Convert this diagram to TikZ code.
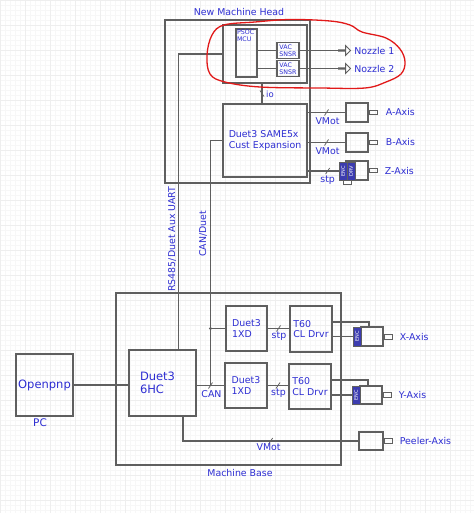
\documentclass[tikz,border=0pt]{standalone}
\usepackage{fontspec}
\usepackage{graphicx}
\setmainfont{DejaVu Sans}
\usetikzlibrary{calc,shapes.arrows}
\definecolor{tblue}{RGB}{45,45,210}
\definecolor{lgray}{RGB}{95,95,95}
\definecolor{gridc}{RGB}{247,247,247}
\definecolor{gridm}{RGB}{238,238,238}
\definecolor{redc}{RGB}{225,25,25}
\definecolor{encblue}{RGB}{60,60,175}
\newcommand\tk[1]{\draw[conn, line width=0.8pt] ($(#1)+(-2,3)$) -- ($(#1)+(2,-3)$);}
\begin{document}
\begin{tikzpicture}[x=1pt,y=-1pt,
  sz/.style 2 args={minimum width=#1pt, minimum height=#2pt},
  box/.style={draw=lgray, line width=1.3pt, inner sep=0pt, text=tblue, font=\fontsize{9.4}{10.5}\selectfont, align=left},
  conn/.style={draw=lgray, line width=1.1pt},
  lbl/.style={text=tblue, font=\fontsize{9.4}{11}\selectfont, inner sep=0pt},
  big/.style={font=\fontsize{11.5}{12.5}\selectfont},
  small/.style={font=\fontsize{6.3}{7}\selectfont},
  enc/.style={draw=lgray, fill=encblue, line width=0.8pt, inner sep=0pt, text=white, font=\fontsize{5}{5}\selectfont},
  noz/.style={single arrow, draw=lgray, line width=1pt, fill=white, minimum height=12pt, minimum width=10pt,
      single arrow head extend=3pt, inner sep=0pt, anchor=west},
  ]
\useasboundingbox (0,0) rectangle (474,513);
\fill[white] (0,0) rectangle (474,513);
\draw[gridc, line width=0.4pt, step=5pt] (0,0) grid (474,513);
\draw[gridm, line width=0.4pt, step=25pt] (0,0) grid (474,513);

% ---------- New machine head ----------
\node[box, sz={145}{163}] (head) at (237.5,101.5) {};
\node[lbl, anchor=base] (headlbl) at (239,15.5) {New Machine Head};
\node[box, sz={84}{58}] (psocbox) at (265,54) {};
\node[box, sz={21}{48}] (psoc) at (246.5,53) {};
\node[lbl, small, align=left, anchor=north west] (psoclbl) at ($(psoc.north west)+(1.5,1.5)$) {PSOC\\MCU};
\node[box, small, sz={22}{16}] (vac1) at (288,50.5) {VAC\\SNSR};
\node[box, small, sz={22}{16}] (vac2) at (288,68.5) {VAC\\SNSR};
\node[noz] (noz1) at (338,50.5) {};
\node[noz] (noz2) at (338,68.5) {};
\node[lbl, anchor=west] (noz1lbl) at ($(noz1.east)+(3,0)$) {Nozzle 1};
\node[lbl, anchor=west] (noz2lbl) at ($(noz2.east)+(3,0)$) {Nozzle 2};

\node[box, sz={84}{73}] (same) at (265,140.5) {Duet3 SAME5x\\Cust Expansion};

% A / B / Z axes
\node[box, sz={22}{19}] (amot) at (357,112.5) {};
\node[box, line width=1pt, sz={8}{4}, anchor=west] (ashaft) at (amot.east) {};
\node[lbl, anchor=base west] (albl) at ($(ashaft.east)+(8,3.5)$) {A-Axis};
\node[box, sz={22}{19}] (bmot) at (357,142.5) {};
\node[box, line width=1pt, sz={8}{4}, anchor=west] (bshaft) at (bmot.east) {};
\node[lbl, anchor=base west] (blbl) at ($(bshaft.east)+(8,3.5)$) {B-Axis};
\node[box, sz={22}{19}] (zbody) at (357,170.5) {};
\node[box, line width=1pt, sz={8}{4}, anchor=west] (zshaft) at (zbody.east) {};
\node[box, line width=0.8pt, fill=white, sz={8}{5}] (ztab) at (347,182) {};
\node[enc, sz={8}{18}] (zenc) at (343,171) {\rotatebox{90}{ENC}};
\node[enc, sz={8}{18}] (zdrv) at (351,171) {\rotatebox{90}{DRV}};
\node[lbl, anchor=base west] (zlbl) at ($(zshaft.east)+(7,3.5)$) {Z-Axis};

% ---------- PC ----------
\node[box, big, sz={57}{62}, align=center] (pnp) at (44.5,385) {Openpnp};
\node[lbl, font=\fontsize{10.5}{12}\selectfont, anchor=base] (pclbl) at (40,426) {PC};

% ---------- Machine base ----------
\node[box, sz={225}{172}] (base) at (228.5,379) {};
\node[lbl, anchor=base] (baselbl) at (240,476.5) {Machine Base};
\node[box, big, sz={67}{66}, text width=45pt] (sixhc) at (162.5,383) {Duet3\\6HC};
\node[box, sz={41}{45}] (xd1) at (246.5,328.5) {Duet3\\1XD};
\node[box, sz={42}{45}] (xd2) at (246,385.5) {Duet3\\1XD};
\node[box, sz={42}{46}] (t60a) at (311,329) {T60\\CL Drvr};
\node[box, sz={42}{45}] (t60b) at (310,386.5) {T60\\CL Drvr};

\node[box, sz={22}{19}] (xbody) at (372,336.5) {};
\node[box, line width=1pt, sz={8}{5}, anchor=west] (xshaft) at (xbody.east) {};
\node[enc, sz={8}{19}] (xenc) at (357,336.5) {\rotatebox{90}{ENC}};
\node[lbl, anchor=base west] (xlbl) at ($(xshaft.east)+(7,3.5)$) {X-Axis};
\node[box, sz={22}{18}] (ybody) at (371,395) {};
\node[box, line width=1pt, sz={8}{5}, anchor=west] (yshaft) at (ybody.east) {};
\node[enc, sz={8}{18}] (yenc) at (356,395) {\rotatebox{90}{ENC}};
\node[lbl, anchor=base west] (ylbl) at ($(yshaft.east)+(7,3.5)$) {Y-Axis};
\node[box, sz={24}{18}] (pbody) at (371,441) {};
\node[box, line width=1pt, sz={8}{5}, anchor=west] (pshaft) at (pbody.east) {};
\node[lbl, anchor=base west] (plbl) at ($(pshaft.east)+(7,3.5)$) {Peeler-Axis};

% ---------- connectors ----------
\coordinate (rsx) at (178.5,0);
\coordinate (canx) at (210.5,0);
\coordinate (vmx) at (183,0);

\draw[conn] (psoc.east |- vac1.west) -- (vac1.west);
\draw[conn] (psoc.east |- vac2.west) -- (vac2.west);
\draw[conn] (vac1.east) -- (noz1.west);
\draw[conn] (vac2.east) -- (noz2.west);

\draw[conn] ($(psocbox.south)+(-3,0)$) coordinate (io1) -- (io1 |- same.north);
\coordinate (iot) at ($(io1)!0.5!(io1 |- same.north)$);
\draw[conn, line width=0.8pt] ($(iot)+(-2,-3)$) -- ($(iot)+(2,3)$);
\node[lbl, font=\fontsize{8.5}{10}\selectfont, anchor=base west] (iolbl) at ($(iot)+(4,4.5)$) {io};

\draw[conn] (same.east |- amot.west) -- (amot.west);
\coordinate (tA) at ($(same.east |- amot.west)!0.5!(amot.west)$);
\tk{tA}
\node[lbl, anchor=base] (vma) at ($(tA)+(1,12.5)$) {VMot};
\draw[conn] (same.east |- bmot.west) -- (bmot.west);
\coordinate (tB) at ($(same.east |- bmot.west)!0.5!(bmot.west)$);
\tk{tB}
\node[lbl, anchor=base] (vmb) at ($(tB)+(1,11.5)$) {VMot};
\draw[conn] (same.east |- zenc.west) -- (zenc.west);
\coordinate (tZ) at ($(same.east |- zenc.west)+(20,0)$);
\tk{tZ}
\node[lbl, anchor=base] (stpz) at ($(tZ)+(0,11.5)$) {stp};

% RS485 and CAN
\draw[conn] (psocbox.west) -| (rsx |- sixhc.north);
\node[lbl, rotate=90] (rslbl) at (172,239) {RS485/Duet Aux UART};
\draw[conn] (same.west) -| (canx |- xd2.west);
\node[lbl, rotate=90] (canlbl) at (203,234) {CAN/Duet};
\draw[conn] (canx |- xd1.west) -- (xd1.west);
\fill[lgray] (canx |- xd1.west) circle (1.6pt);
\draw[conn] (sixhc.east |- xd2.west) -- (xd2.west);
\coordinate (tC) at (canx |- xd2.west);
\tk{tC}
\node[lbl, anchor=base] (canl) at ($(tC)+(1,11.5)$) {CAN};

\draw[conn] (pnp.east) -- (pnp.east -| sixhc.west);

\draw[conn] (xd1.east) -- (t60a.west |- xd1.east);
\coordinate (ts1) at ($(xd1.east)!0.5!(t60a.west |- xd1.east)$);
\tk{ts1}
\node[lbl, anchor=base] (stp1) at ($(ts1)+(0.5,10)$) {stp};
\draw[conn] (xd2.east) -- (t60b.west |- xd2.east);
\coordinate (ts2) at ($(xd2.east)!0.5!(t60b.west |- xd2.east)$);
\tk{ts2}
\node[lbl, anchor=base] (stp2) at ($(ts2)+(0.5,10)$) {stp};

\draw[conn] ($(t60a.east)+(0,-7)$) -| ($(xbody.north)+(-3,0)$);
\draw[conn] (t60a.east |- xenc.west) -- (xenc.west);
\draw[conn] ($(t60b.east)+(0,-6.5)$) -| ($(ybody.north)+(-3,0)$);
\draw[conn] (t60b.east |- yenc.west) -- (yenc.west);

\draw[conn] (vmx |- sixhc.south) |- (pbody.west);
\coordinate (tP) at ($(vmx |- pbody.west)!0.5!(pbody.west)$);
\tk{tP}
\node[lbl, anchor=base] (vmp) at ($(tP)+(-2,9.5)$) {VMot};

% ---------- red freehand outline ----------
\draw[redc, line width=1.3pt] plot[smooth cycle, tension=0.6] coordinates {
 (224,25) (255,22) (290,19.5) (330,21) (350,25) (362,32) (386,38) (400,49) (405,62) (401,74)
 (386,82) (365,88) (320,88) (260,87) (225,82) (210,74) (207,55) (212,35)};
\end{tikzpicture}
\end{document}
